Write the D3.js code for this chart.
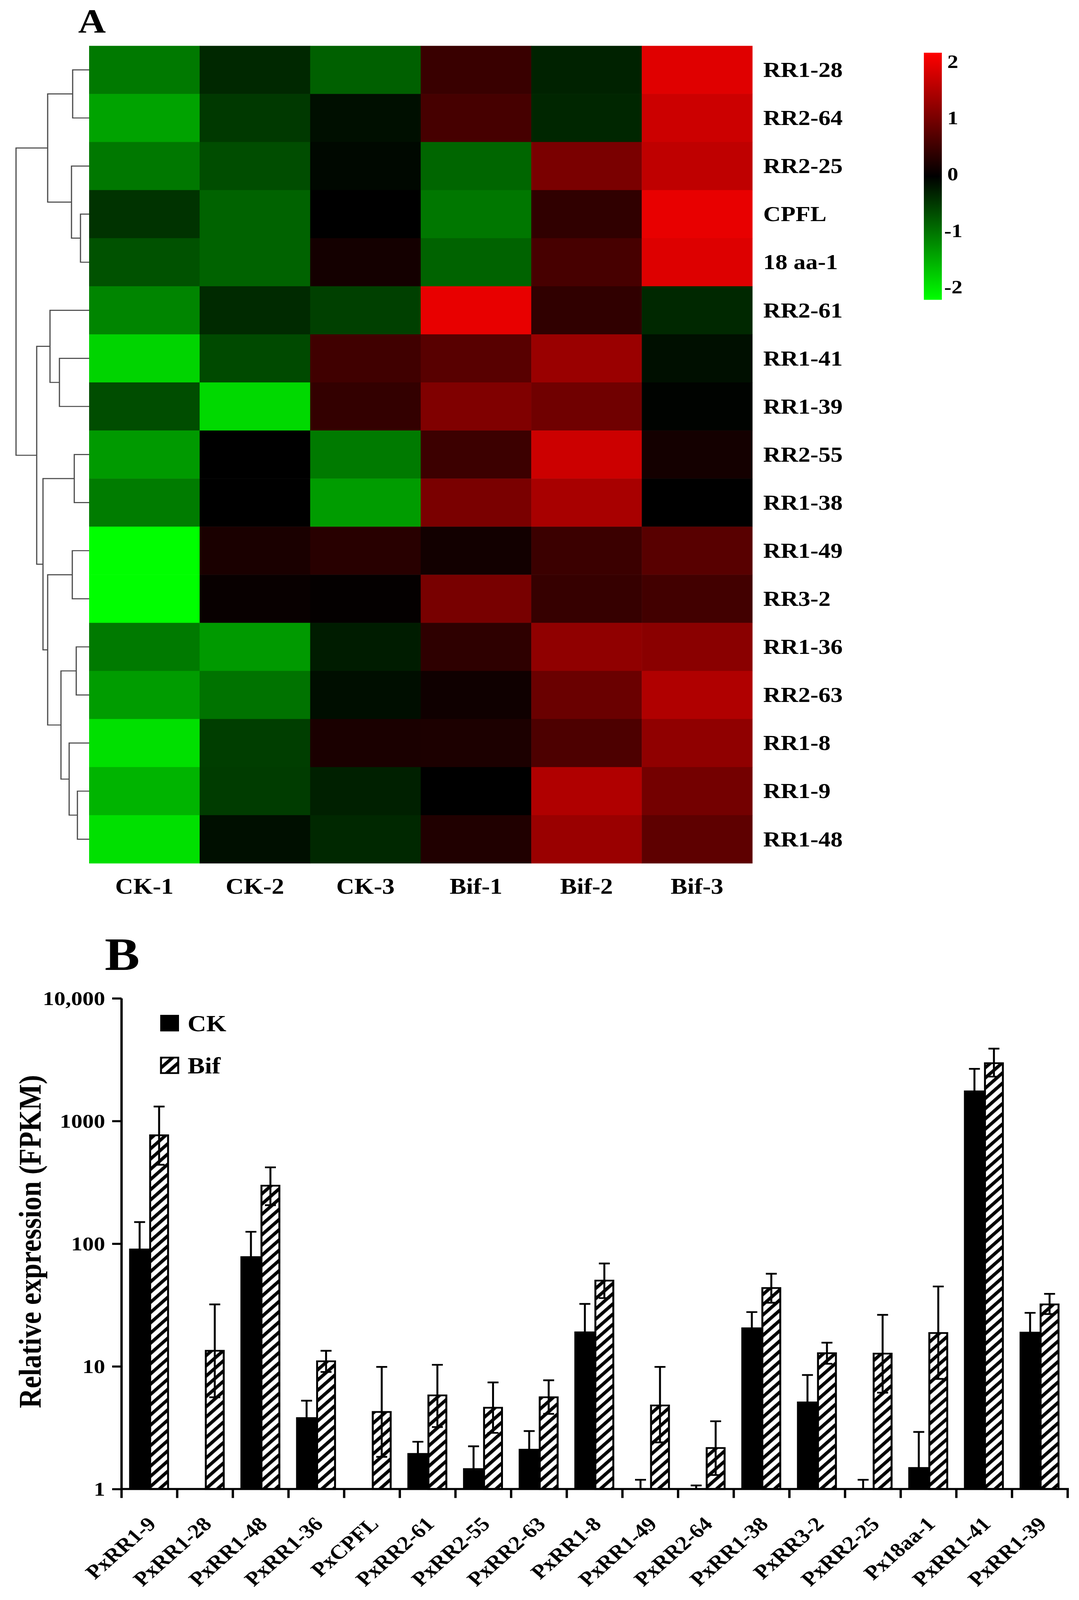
<!DOCTYPE html>
<html>
<head>
<meta charset="utf-8">
<script src="https://cdn.jsdelivr.net/npm/d3@7"></script>
<style>
  html, body { margin: 0; padding: 0; background: #fff; overflow: hidden; }
  svg { display: block; }
  text { font-family: "Liberation Serif", "Times New Roman", serif; font-weight: bold; fill: #000; }
</style>
</head>
<body>
<script>
// ---------------- DATA ----------------
const genes = ["RR1-28","RR2-64","RR2-25","CPFL","18 aa-1","RR2-61","RR1-41","RR1-39","RR2-55","RR1-38","RR1-49","RR3-2","RR1-36","RR2-63","RR1-8","RR1-9","RR1-48"];
const samples = ["CK-1","CK-2","CK-3","Bif-1","Bif-2","Bif-3"];
const zscores = [
  [-0.95,-0.31,-0.75, 0.45,-0.27, 1.76],
  [-1.28,-0.45,-0.12, 0.55,-0.30, 1.60],
  [-0.94,-0.60,-0.06,-0.80, 0.96, 1.50],
  [-0.40,-0.78, 0.00,-0.93, 0.38, 1.82],
  [-0.64,-0.78, 0.16,-0.78, 0.56, 1.73],
  [-1.04,-0.33,-0.50, 1.82, 0.38,-0.31],
  [-1.66,-0.58, 0.50, 0.69, 1.21,-0.12],
  [-0.60,-1.70, 0.40, 1.00, 0.88,-0.02],
  [-1.21, 0.00,-0.96, 0.47, 1.60, 0.16],
  [-0.97, 0.00,-1.22, 0.96, 1.32, 0.00],
  [-2.00, 0.20, 0.31, 0.14, 0.46, 0.69],
  [-2.00, 0.06, 0.03, 0.94, 0.42, 0.52],
  [-0.96,-1.21,-0.22, 0.36, 1.13, 1.08],
  [-1.22,-0.90,-0.11, 0.12, 0.83, 1.38],
  [-1.76,-0.49, 0.20, 0.22, 0.60, 1.13],
  [-1.41,-0.47,-0.25, 0.00, 1.38, 0.91],
  [-1.76,-0.12,-0.31, 0.25, 1.21, 0.74]
];
const legendTicks = [2, 1, 0, -1, -2];

// dendrogram (row clustering), h = merge height
const L = n => ({ name: n });
const dendro = { h: 1.0, children: [
  { h: 0.567, children: [
    { h: 0.225, children: [L("RR1-28"), L("RR2-64")] },
    { h: 0.241, children: [L("RR2-25"), { h: 0.118, children: [L("CPFL"), L("18 aa-1")] }] }
  ]},
  { h: 0.717, children: [
    { h: 0.535, children: [L("RR2-61"), { h: 0.406, children: [L("RR1-41"), L("RR1-39")] }] },
    { h: 0.631, children: [
      { h: 0.203, children: [L("RR2-55"), L("RR1-38")] },
      { h: 0.567, children: [
        { h: 0.230, children: [L("RR1-49"), L("RR3-2")] },
        { h: 0.385, children: [
          { h: 0.176, children: [L("RR1-36"), L("RR2-63")] },
          { h: 0.273, children: [L("RR1-8"), { h: 0.160, children: [L("RR1-9"), L("RR1-48")] }] }
        ]}
      ]}
    ]}
  ]}
]};

// bar chart
const barGenes = ["PxRR1-9","PxRR1-28","PxRR1-48","PxRR1-36","PxCPFL","PxRR2-61","PxRR2-55","PxRR2-63","PxRR1-8","PxRR1-49","PxRR2-64","PxRR1-38","PxRR3-2","PxRR2-25","Px18aa-1","PxRR1-41","PxRR1-39"];
const ckMean  = [90, 1, 78, 3.8, 1, 1.94, 1.46, 2.1, 19, 1, 1, 20.5, 5.1, 1, 1.49, 1750, 18.9];
const ckUpper = [150, null, 125, 5.25, null, 2.43, 2.23, 2.97, 32.3, 1.19, 1.07, 27.7, 8.5, 1.19, 2.92, 2660, 27.3];
const bifMean  = [765, 13.4, 297, 11, 4.25, 5.8, 4.6, 5.6, 50, 4.8, 2.16, 43.5, 12.8, 12.7, 18.7, 2960, 32];
const bifUpper = [1312, 32, 419, 13.4, 9.9, 10.3, 7.4, 7.7, 69, 9.9, 3.57, 56.9, 15.6, 26.3, 44.8, 3890, 39];
const bifLower = [440, 5.6, 206, 9.0, 1.83, 3.2, 2.87, 4.1, 36, 2.4, 1.3, 33, 10.5, 6.1, 7.9, 2300, 26.7];
const yTicks = [1, 10, 100, 1000, 10000];
const yTickLabels = ["1", "10", "100", "1000", "10,000"];
const seriesNames = ["CK", "Bif"];

// ---------------- DRAW ----------------
const W = 2761, H = 4643;
const vw = window.innerWidth || W, vh = window.innerHeight || H;
const svg = d3.select("body").append("svg")
  .attr("width", vw).attr("height", vh)
  .attr("viewBox", `0 0 ${W} ${H}`).attr("preserveAspectRatio", "none");
svg.append("rect").attr("width", W).attr("height", H).attr("fill", "#fff");

const defs = svg.append("defs");
const hatch = defs.append("pattern").attr("id", "hatch")
  .attr("patternUnits", "userSpaceOnUse").attr("width", 21).attr("height", 21)
  .attr("patternTransform", "rotate(45)");
hatch.append("rect").attr("width", 21).attr("height", 21).attr("fill", "#fff");
hatch.append("rect").attr("x", 0).attr("width", 9).attr("height", 21).attr("fill", "#000");

// ===== Panel A: heatmap =====
svg.append("text").attr("x", 200).attr("y", 94).attr("font-size", 98).text("A");

const hx = d3.scaleBand().domain(samples).range([228, 1925]);
const hy = d3.scaleBand().domain(genes).range([133, 2505]);
const color = d3.scaleLinear().domain([-2, 0, 2]).range(["#00ff00", "#000000", "#ff0000"]).clamp(true);

const cells = [];
genes.forEach((g, i) => samples.forEach((s, j) => cells.push({ g, s, v: zscores[i][j] })));
svg.append("g").selectAll("rect").data(cells).join("rect")
  .attr("x", d => hx(d.s)).attr("y", d => hy(d.g))
  .attr("width", hx.bandwidth() + 0.6).attr("height", hy.bandwidth() + 0.6)
  .attr("fill", d => color(d.v));

// row labels
svg.append("g").selectAll("text").data(genes).join("text")
  .attr("x", 1953).attr("y", d => hy(d) + hy.bandwidth() / 2)
  .attr("dominant-baseline", "central").attr("font-size", 62).text(d => d);

// column labels
svg.append("g").selectAll("text").data(samples).join("text")
  .attr("x", d => hx(d) + hx.bandwidth() / 2).attr("y", 2594)
  .attr("text-anchor", "middle").attr("font-size", 64).text(d => d);

// dendrogram
const root = d3.hierarchy(dendro);
const dx = d3.scaleLinear().domain([0, 1]).range([228, 41]);
root.eachAfter(n => {
  if (!n.children) { n.py = hy(n.data.name) + hy.bandwidth() / 2; n.px = dx(0); }
  else {
    n.py = (n.children[0].py + n.children[n.children.length - 1].py) / 2;
    n.px = dx(n.data.h);
  }
});
const dg = svg.append("g").attr("fill", "none").attr("stroke", "#4a4a4a").attr("stroke-width", 3);
root.descendants().filter(n => n.children).forEach(n => {
  const c0 = n.children[0], c1 = n.children[n.children.length - 1];
  dg.append("path").attr("d", `M${c0.px},${c0.py}H${n.px}V${c1.py}H${c1.px}`);
});

// colour legend
const ly = d3.scaleLinear().domain([-2, 2]).range([832, 178]);
const grad = defs.append("linearGradient").attr("id", "cbar")
  .attr("x1", 0).attr("y1", 0).attr("x2", 0).attr("y2", 1);
[2, 1, 0, -1, -2].forEach((v, i) => grad.append("stop").attr("offset", i / 4).attr("stop-color", color(v)));
svg.append("rect").attr("x", 2364).attr("y", 153).attr("width", 46).attr("height", 717).attr("fill", "url(#cbar)");
svg.append("g").selectAll("text").data(legendTicks).join("text")
  .attr("x", d => d < 0 ? 2416 : 2424).attr("y", d => ly(d))
  .attr("dominant-baseline", "central").attr("font-size", 56).text(d => d < 0 ? "-" + Math.abs(d) : d);

// ===== Panel B: bar chart =====
svg.append("text").attr("x", 268).attr("y", 2815).attr("font-size", 134).text("B");

const x0 = d3.scaleBand().domain(barGenes).range([311, 2732]).paddingInner(0.3).paddingOuter(0.15);
const x1 = d3.scaleBand().domain(seriesNames).range([0, x0.bandwidth()]);
const y = d3.scaleLog().domain([1, 10000]).range([4321, 2897]);

const bars = barGenes.map((g, i) => ({ g, ck: ckMean[i], ckU: ckUpper[i], bif: bifMean[i], bifU: bifUpper[i], bifL: bifLower[i] }));

// CK bars
svg.append("g").selectAll("rect").data(bars).join("rect")
  .attr("x", d => x0(d.g) + x1("CK")).attr("y", d => y(d.ck))
  .attr("width", x1.bandwidth()).attr("height", d => y(1) - y(d.ck))
  .attr("fill", "#000").attr("stroke", "#000").attr("stroke-width", 4);
// Bif bars
svg.append("g").selectAll("rect").data(bars).join("rect")
  .attr("x", d => x0(d.g) + x1("Bif") + 2).attr("y", d => y(d.bif))
  .attr("width", x1.bandwidth() - 4).attr("height", d => y(1) - y(d.bif))
  .attr("fill", "url(#hatch)").attr("stroke", "#000").attr("stroke-width", 5);

// error bars
const eg = svg.append("g").attr("stroke", "#000").attr("stroke-width", 5).attr("fill", "none");
const cap = 28;
bars.forEach(d => {
  if (d.ckU != null) {
    const cx = x0(d.g) + x1("CK") + x1.bandwidth() / 2;
    eg.append("path").attr("d", `M${cx},${y(d.ck)}V${y(d.ckU)}M${cx - cap / 2},${y(d.ckU)}H${cx + cap / 2}`);
  }
  const bx = x0(d.g) + x1("Bif") + x1.bandwidth() / 2;
  eg.append("path").attr("d",
    `M${bx},${y(d.bifL)}V${y(d.bifU)}M${bx - cap / 2},${y(d.bifU)}H${bx + cap / 2}M${bx - cap / 2},${y(d.bifL)}H${bx + cap / 2}`);
});

// y axis
const yAxis = d3.axisLeft(y).tickValues(yTicks).tickFormat((d, i) => yTickLabels[i]).tickSize(24).tickPadding(18);
const yg = svg.append("g").attr("transform", "translate(311,0)").call(yAxis);
yg.select(".domain").attr("stroke-width", 6).attr("d", `M0,${y(10000)}V${y(1)}`);
yg.selectAll(".tick line").attr("stroke-width", 6);
yg.selectAll(".tick text").attr("font-size", 58).attr("font-family", "Liberation Serif").attr("font-weight", "bold").attr("fill", "#000");

// x axis
svg.append("line").attr("x1", 308).attr("x2", 2735).attr("y1", y(1)).attr("y2", y(1))
  .attr("stroke", "#000").attr("stroke-width", 6);
const bounds = d3.range(barGenes.length + 1).map(i => i < barGenes.length
  ? x0(barGenes[i]) - x0.step() * 0.15 : x0(barGenes[i - 1]) + x0.bandwidth() + x0.step() * 0.15);
svg.append("g").selectAll("line").data(bounds).join("line")
  .attr("x1", d => d).attr("x2", d => d).attr("y1", y(1)).attr("y2", y(1) + 26)
  .attr("stroke", "#000").attr("stroke-width", 6);
svg.append("g").selectAll("text").data(barGenes).join("text")
  .attr("transform", d => `translate(${x0(d) + x0.bandwidth() / 2 + 20},${y(1) + 105}) rotate(-45)`)
  .attr("text-anchor", "end").attr("font-size", 58).text(d => d);

// y axis title
svg.append("text").attr("transform", "translate(104,3603) rotate(-90)")
  .attr("text-anchor", "middle").attr("font-size", 80).text("Relative expression (FPKM)");

// legend
const lg = svg.append("g");
lg.append("rect").attr("x", 410).attr("y", 2945).attr("width", 48).attr("height", 48).attr("fill", "#000");
lg.append("text").attr("x", 480).attr("y", 2993).attr("font-size", 66).text(seriesNames[0]);
lg.append("rect").attr("x", 412).attr("y", 3069).attr("width", 44).attr("height", 45)
  .attr("fill", "url(#hatch)").attr("stroke", "#000").attr("stroke-width", 5);
lg.append("text").attr("x", 480).attr("y", 3115).attr("font-size", 66).text(seriesNames[1]);
</script>
</body>
</html>
